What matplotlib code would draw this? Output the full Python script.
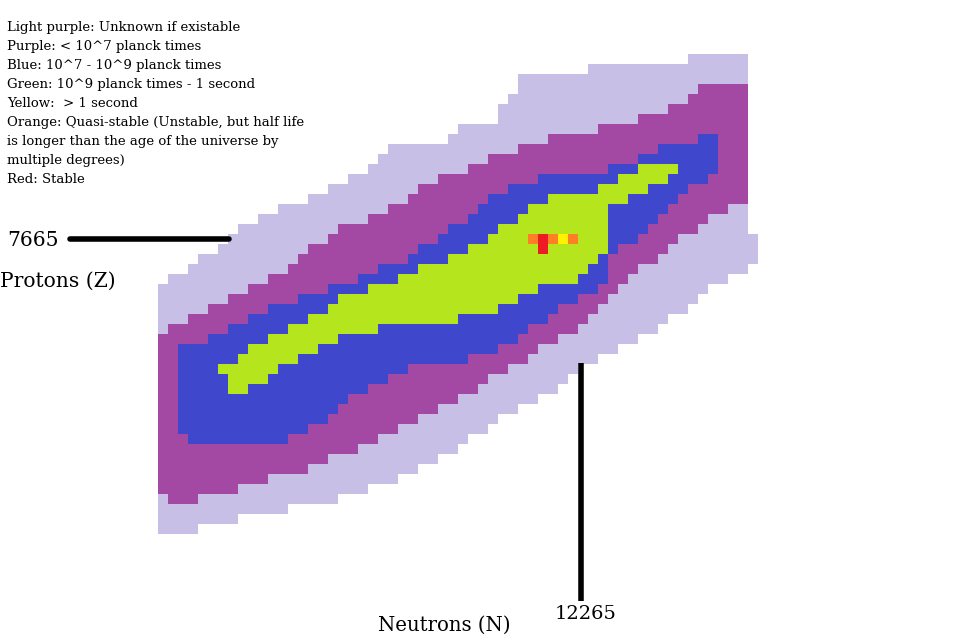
import numpy as np
import matplotlib
matplotlib.use("Agg")
import matplotlib.pyplot as plt
from matplotlib.colors import ListedColormap
from matplotlib.lines import Line2D

# colour codes of the cells, MS Paint palette
codes = ["L", "P", "B", "G", "Y", "O", "R"]
colors = ["#C8BFE7", "#A349A4", "#3F48CC", "#B5E61D", "#FFF200", "#FF7F27", "#ED1C24"]

n_cols = 60
# one entry per row (top to bottom): (first column, last column, colour code)
rows = [
    [(53, 58, "L")],
    [(43, 58, "L")],
    [(36, 58, "L")],
    [(36, 53, "L"), (54, 58, "P")],
    [(35, 52, "L"), (53, 58, "P")],
    [(34, 50, "L"), (51, 58, "P")],
    [(34, 47, "L"), (48, 58, "P")],
    [(30, 43, "L"), (44, 58, "P")],
    [(29, 38, "L"), (39, 53, "P"), (54, 55, "B"), (56, 58, "P")],
    [(23, 35, "L"), (36, 49, "P"), (50, 55, "B"), (56, 58, "P")],
    [(22, 32, "L"), (33, 47, "P"), (48, 55, "B"), (56, 58, "P")],
    [(21, 30, "L"), (31, 44, "P"), (45, 47, "B"), (48, 51, "G"), (52, 55, "B"), (56, 58, "P")],
    [(19, 27, "L"), (28, 37, "P"), (38, 45, "B"), (46, 50, "G"), (51, 54, "B"), (55, 58, "P")],
    [(17, 25, "L"), (26, 34, "P"), (35, 43, "B"), (44, 48, "G"), (49, 52, "B"), (53, 58, "P")],
    [(15, 24, "L"), (25, 32, "P"), (33, 38, "B"), (39, 46, "G"), (47, 51, "B"), (52, 58, "P")],
    [(12, 22, "L"), (23, 31, "P"), (32, 36, "B"), (37, 44, "G"), (45, 50, "B"), (51, 56, "P"), (57, 58, "L")],
    [(10, 20, "L"), (21, 30, "P"), (31, 35, "B"), (36, 44, "G"), (45, 49, "B"), (50, 54, "P"), (55, 58, "L")],
    [(8, 17, "L"), (18, 28, "P"), (29, 33, "B"), (34, 44, "G"), (45, 48, "B"), (49, 53, "P"), (54, 58, "L")],
    [(7, 16, "L"), (17, 27, "P"), (28, 32, "B"), (33, 36, "G"), (37, 37, "O"), (38, 38, "R"),
     (39, 39, "O"), (40, 40, "Y"), (41, 41, "O"), (42, 44, "G"), (45, 47, "B"), (48, 51, "P"), (52, 59, "L")],
    [(6, 14, "L"), (15, 25, "P"), (26, 30, "B"), (31, 37, "G"), (38, 38, "R"), (39, 44, "G"),
     (45, 45, "B"), (46, 50, "P"), (51, 59, "L")],
    [(4, 13, "L"), (14, 24, "P"), (25, 28, "B"), (29, 43, "G"), (44, 44, "B"), (45, 49, "P"), (50, 59, "L")],
    [(3, 12, "L"), (13, 21, "P"), (22, 25, "B"), (26, 42, "G"), (43, 44, "B"), (45, 47, "P"), (48, 58, "L")],
    [(1, 10, "L"), (11, 19, "P"), (20, 23, "B"), (24, 41, "G"), (42, 44, "B"), (45, 46, "P"), (47, 56, "L")],
    [(0, 8, "L"), (9, 16, "P"), (17, 20, "B"), (21, 37, "G"), (38, 43, "B"), (44, 45, "P"), (46, 54, "L")],
    [(0, 6, "L"), (7, 13, "P"), (14, 17, "B"), (18, 35, "G"), (36, 41, "B"), (42, 44, "P"), (45, 53, "L")],
    [(0, 4, "L"), (5, 10, "P"), (11, 16, "B"), (17, 33, "G"), (34, 39, "B"), (40, 43, "P"), (44, 52, "L")],
    [(0, 2, "L"), (3, 8, "P"), (9, 14, "B"), (15, 29, "G"), (30, 38, "B"), (39, 42, "P"), (43, 50, "L")],
    [(0, 0, "L"), (1, 6, "P"), (7, 12, "B"), (13, 21, "G"), (22, 36, "B"), (37, 41, "P"), (42, 49, "L")],
    [(0, 4, "P"), (5, 10, "B"), (11, 17, "G"), (18, 35, "B"), (36, 39, "P"), (40, 47, "L")],
    [(0, 1, "P"), (2, 8, "B"), (9, 15, "G"), (16, 33, "B"), (34, 37, "P"), (38, 45, "L")],
    [(0, 1, "P"), (2, 7, "B"), (8, 13, "G"), (14, 30, "B"), (31, 36, "P"), (37, 43, "L")],
    [(0, 1, "P"), (2, 5, "B"), (6, 11, "G"), (12, 24, "B"), (25, 34, "P"), (35, 41, "L")],
    [(0, 1, "P"), (2, 6, "B"), (7, 10, "G"), (11, 22, "B"), (23, 32, "P"), (33, 40, "L")],
    [(0, 1, "P"), (2, 6, "B"), (7, 8, "G"), (9, 20, "B"), (21, 31, "P"), (32, 39, "L")],
    [(0, 1, "P"), (2, 18, "B"), (19, 29, "P"), (30, 37, "L")],
    [(0, 1, "P"), (2, 17, "B"), (18, 27, "P"), (28, 35, "L")],
    [(0, 1, "P"), (2, 16, "B"), (17, 25, "P"), (26, 33, "L")],
    [(0, 1, "P"), (2, 14, "B"), (15, 23, "P"), (24, 32, "L")],
    [(0, 2, "P"), (3, 12, "B"), (13, 21, "P"), (22, 30, "L")],
    [(0, 19, "P"), (20, 29, "L")],
    [(0, 16, "P"), (17, 27, "L")],
    [(0, 14, "P"), (15, 25, "L")],
    [(0, 10, "P"), (11, 23, "L")],
    [(0, 7, "P"), (8, 20, "L")],
    [(0, 0, "L"), (1, 3, "P"), (4, 17, "L")],
    [(0, 12, "L")],
    [(0, 7, "L")],
    [(0, 3, "L")],
]

legend_lines = [
    "Light purple: Unknown if existable",
    "Purple: < 10^7 planck times",
    "Blue: 10^7 - 10^9 planck times",
    "Green: 10^9 planck times - 1 second",
    "Yellow:  > 1 second",
    "Orange: Quasi-stable (Unstable, but half life",
    "is longer than the age of the universe by",
    "multiple degrees)",
    "Red: Stable",
]
proton_max = "7665"
neutron_max = "12265"

# build the grid
grid = np.full((len(rows), n_cols), -1)
for r, segs in enumerate(rows):
    for c0, c1, code in segs:
        grid[r, c0:c1 + 1] = codes.index(code)
grid = np.ma.masked_less(grid, 0)

W, H = 960, 640
fig = plt.figure(figsize=(W / 100, H / 100), dpi=100)
fig.patch.set_facecolor("white")


def fx(px):
    return px / W


def fy(py):
    return 1 - py / H


# grid occupies x 158..758, y 54..534 in pixels
ax = fig.add_axes([fx(158), fy(534), fx(600), 480 / H])
ax.imshow(grid, cmap=ListedColormap(colors), vmin=0, vmax=len(colors) - 1,
          interpolation="nearest", aspect="auto",
          extent=(0, n_cols, len(rows), 0))
ax.set_axis_off()

serif = "DejaVu Serif"
for i, line in enumerate(legend_lines):
    fig.text(fx(7), fy(31 + 19 * i), line, family=serif, fontsize=9.5, va="baseline")

fig.text(fx(7), fy(246), proton_max, family=serif, fontsize=14.5, va="baseline")
fig.text(fx(0), fy(287), "Protons (Z)", family=serif, fontsize=14.6, va="baseline")
fig.text(fx(555), fy(619), neutron_max, family=serif, fontsize=14, va="baseline")
fig.text(fx(378), fy(631), "Neutrons (N)", family=serif, fontsize=14.2, va="baseline")

fig.add_artist(Line2D([fx(70), fx(229)], [fy(238.5), fy(238.5)], color="black",
                      lw=4, solid_capstyle="round"))
fig.add_artist(Line2D([fx(581), fx(581)], [fy(363), fy(601)], color="black",
                      lw=4, solid_capstyle="butt"))

fig.savefig("out.png", dpi=100)
